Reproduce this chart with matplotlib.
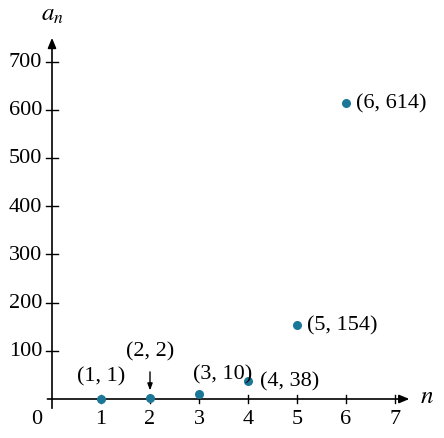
import matplotlib.pyplot as plt

n_vals = [1, 2, 3, 4, 5, 6]
a_vals = [1, 2, 10, 38, 154, 614]
labels = ["(1, 1)", "(2, 2)", "(3, 10)", "(4, 38)", "(5, 154)", "(6, 614)"]
xticks = [1, 2, 3, 4, 5, 6, 7]
yticks = [100, 200, 300, 400, 500, 600, 700]

plt.rcParams["font.family"] = ["Liberation Serif", "DejaVu Serif"]
plt.rcParams["mathtext.fontset"] = "stix"

fig = plt.figure(figsize=(4.44, 4.39), dpi=100)
ax = fig.add_axes([0, 0, 1, 1])
ax.set_xlim(-52 / 49, 392 / 49)
ax.set_ylim(-39 / 0.482, 400 / 0.482)
ax.axis("off")

# axes with arrows
ax.annotate("", xy=(7.35, 0), xytext=(-0.15, 0),
            arrowprops=dict(arrowstyle="-|>,head_length=0.6,head_width=0.25", color="black", lw=1.2))
ax.annotate("", xy=(0, 755), xytext=(0, -25),
            arrowprops=dict(arrowstyle="-|>,head_length=0.6,head_width=0.25", color="black", lw=1.2))

for x in xticks:
    ax.plot([x, x], [-8, 8], color="black", lw=1)
    ax.text(x, -20, str(x), ha="center", va="top", fontsize=16)
for y in yticks:
    ax.plot([-0.12, 0.12], [y, y], color="black", lw=1)
    ax.text(-0.2, y, str(y), ha="right", va="center", fontsize=16)
ax.text(-0.2, -20, "0", ha="right", va="top", fontsize=16)
ax.text(7.5, 6, "$n$", ha="left", va="center", fontsize=18)
ax.text(0, 775, "$a_n$", ha="center", va="bottom", fontsize=18)

ax.scatter(n_vals, a_vals, s=30, color="#1b7797", zorder=3)

offsets = [(0, 28, "center", "bottom"), (0, 78, "center", "bottom"),
           (-0.12, 22, "left", "bottom"), (0.25, 0, "left", "center"),
           (0.2, 0, "left", "center"), (0.2, 0, "left", "center")]
for x, y, lab, (dx, dy, ha, va) in zip(n_vals, a_vals, labels, offsets):
    ax.text(x + dx, y + dy, lab, ha=ha, va=va, fontsize=16)

# arrow pointing to (2, 2)
ax.annotate("", xy=(2, 12), xytext=(2, 62),
            arrowprops=dict(arrowstyle="-|>,head_length=0.4,head_width=0.15", color="black", lw=1))

fig.savefig("out.png", dpi=100)
